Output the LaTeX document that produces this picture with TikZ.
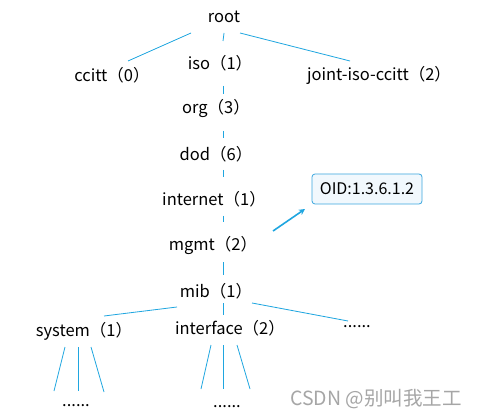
\documentclass[tikz,border=0pt]{standalone}
\usepackage{fontspec}
\setmainfont{Noto Sans CJK SC}
\usetikzlibrary{arrows.meta}
\definecolor{lineblue}{HTML}{1FA6E0}
\definecolor{boxfill}{HTML}{F1F8FD}
\definecolor{boxline}{HTML}{3AA6DE}
\tikzset{
  lbl/.style={inner sep=0pt, font=\fontsize{16.5}{18}\selectfont, text=black},
  conn/.style={draw=lineblue, line width=0.8pt},
  oidbox/.style={draw=boxline, fill=boxfill, rounded corners=3pt, line width=0.8pt,
    minimum width=110pt, minimum height=30pt, inner sep=0pt, font=\fontsize{16}{18}\selectfont},
  pointer/.style={draw=lineblue, line width=1.6pt, -{Stealth[length=6pt,width=6pt]}},
  wm/.style={inner sep=0pt, text=black!35, font=\fontsize{19.5}{21}\selectfont}
}
\begin{document}
\begin{tikzpicture}[x=1pt,y=-1pt]
\useasboundingbox[fill=white] (0,0) rectangle (478,419);
% nodes
\node[lbl] (root) at (224,17) {root};
\node[lbl] (ccitt) at (112,75) {ccitt（0）};
\node[lbl] (iso) at (220,63) {iso（1）};
\node[lbl] (joint) at (379,75) {joint-iso-ccitt（2）};
\node[lbl] (org) at (216,109) {org（3）};
\node[lbl] (dod) at (216,154) {dod（6）};
\node[lbl] (internet) at (214,199) {internet（1）};
\node[lbl] (mgmt) at (213,245) {mgmt（2）};
\node[oidbox] (oid) at (367,189) {OID:1.3.6.1.2};
\node[lbl] (mib) at (216,291) {mib（1）};
\node[lbl] (system) at (84,331) {system（1）};
\node[lbl] (interface) at (230,328) {interface（2）};
\node[lbl] (more) at (357,327) {......};
\node[lbl] (sysmore) at (76,406) {......};
\node[lbl] (ifmore) at (227,407) {......};
\node[wm] (watermark) at (376,399) {CSDN @别叫我王工};
% connector end points
\coordinate (r1) at (191,33); \coordinate (c1) at (128,61);
\coordinate (r2) at (224,33); \coordinate (i1) at (223,41);
\coordinate (r3) at (240,33); \coordinate (j1) at (350,61);
\coordinate (i2) at (223,86); \coordinate (o1) at (223,94);
\coordinate (o2) at (223,131); \coordinate (d1) at (223,138);
\coordinate (d2) at (223,170); \coordinate (n1) at (223,177);
\coordinate (n2) at (223,216); \coordinate (g1) at (223,222);
\coordinate (g2) at (223,262); \coordinate (m1) at (223,275);
\coordinate (ga) at (273,231); \coordinate (ob) at (305,209);
\coordinate (m2) at (177,307); \coordinate (s1) at (104,316);
\coordinate (m3) at (223,303); \coordinate (f1) at (223,315);
\coordinate (m4) at (252,303); \coordinate (e1) at (348,321);
\coordinate (sa) at (65,347); \coordinate (sa2) at (54,391);
\coordinate (sb) at (78,347); \coordinate (sb2) at (78,391);
\coordinate (sc) at (91,347); \coordinate (sc2) at (104,392);
\coordinate (fa) at (211,345); \coordinate (fa2) at (201,389);
\coordinate (fb) at (223,345); \coordinate (fb2) at (223,389);
\coordinate (fc) at (237,345); \coordinate (fc2) at (250,389);
% connectors
\draw[conn] (r1) -- (c1);
\draw[conn] (r2) -- (i1);
\draw[conn] (r3) -- (j1);
\draw[conn] (i2) -- (o1);
\draw[conn] (o2) -- (d1);
\draw[conn] (d2) -- (n1);
\draw[conn] (n2) -- (g1);
\draw[conn] (g2) -- (m1);
\draw[conn] (m2) -- (s1);
\draw[conn] (m3) -- (f1);
\draw[conn] (m4) -- (e1);
\draw[conn] (sa) -- (sa2);
\draw[conn] (sb) -- (sb2);
\draw[conn] (sc) -- (sc2);
\draw[conn] (fa) -- (fa2);
\draw[conn] (fb) -- (fb2);
\draw[conn] (fc) -- (fc2);
\draw[pointer] (ga) -- (ob);
\end{tikzpicture}
\end{document}
